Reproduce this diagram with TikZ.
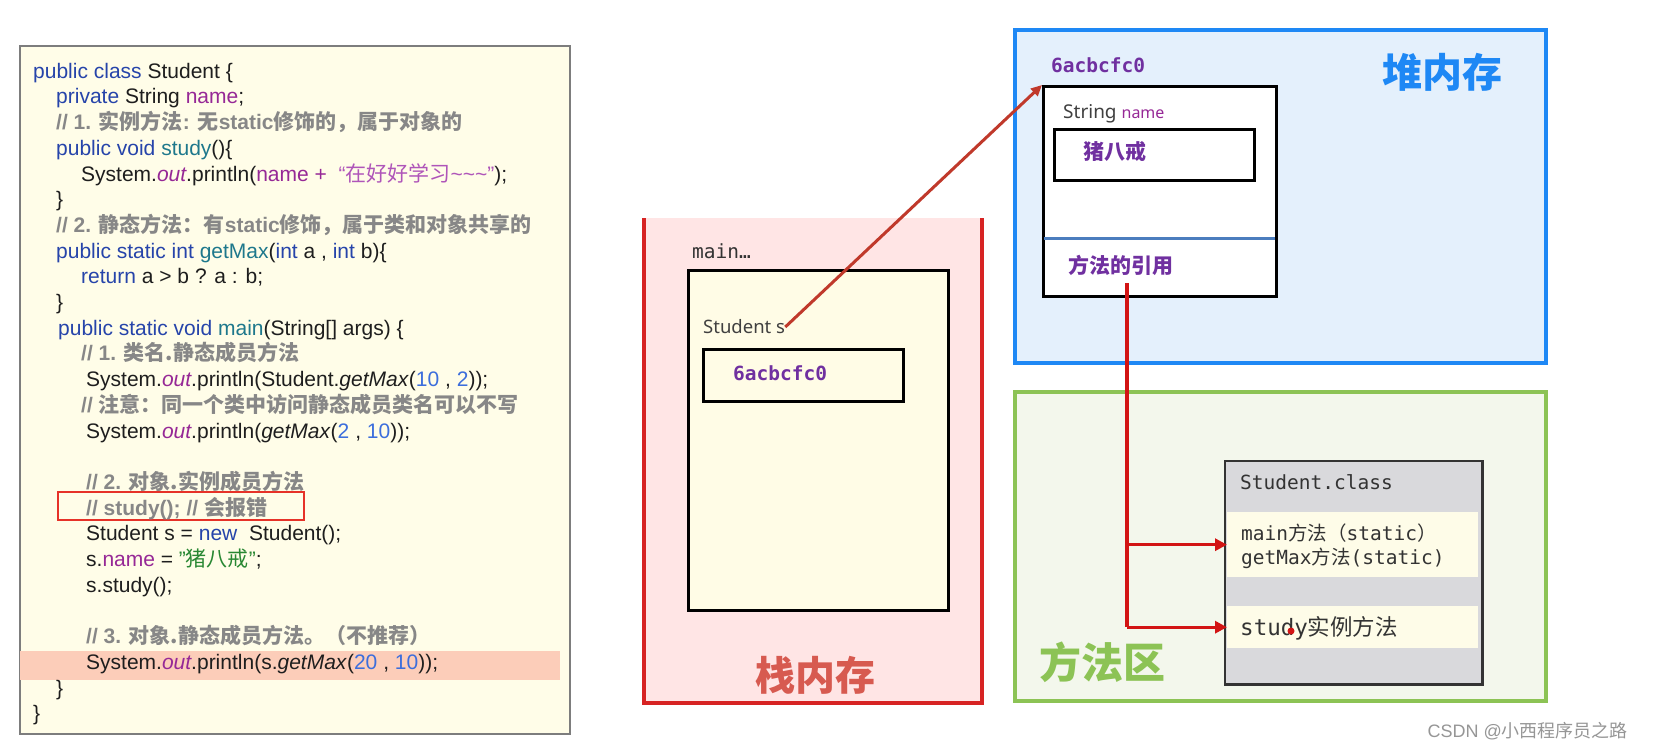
\documentclass[tikz,border=0pt]{standalone}
\usepackage{fontspec}
\usetikzlibrary{arrows.meta}
\setmainfont{Liberation Sans}
\newfontfamily\cjk{Noto Sans CJK SC}
\newfontfamily\mono{DejaVu Sans Mono}
\newfontfamily\uisans{Noto Sans}

\definecolor{codebg}{RGB}{255,253,232}
\definecolor{codeframe}{RGB}{125,125,125}
\definecolor{codeblack}{RGB}{30,30,30}
\definecolor{kwblue}{RGB}{38,68,170}
\definecolor{mthteal}{RGB}{30,120,140}
\definecolor{fldpurple}{RGB}{150,40,150}
\definecolor{strpurple}{RGB}{175,85,185}
\definecolor{strgreen}{RGB}{40,135,50}
\definecolor{numblue}{RGB}{60,110,220}
\definecolor{cmtgray}{RGB}{135,135,135}
\definecolor{errred}{RGB}{230,50,40}
\definecolor{hilite}{RGB}{252,205,185}
\definecolor{stackfill}{RGB}{255,229,229}
\definecolor{stackred}{RGB}{215,35,35}
\definecolor{stacktxt}{RGB}{215,90,80}
\definecolor{framefill}{RGB}{255,252,230}
\definecolor{heapfill}{RGB}{228,240,252}
\definecolor{heapblue}{RGB}{30,136,245}
\definecolor{divblue}{RGB}{75,125,190}
\definecolor{addrpurple}{RGB}{112,48,160}
\definecolor{areafill}{RGB}{243,247,236}
\definecolor{areagreen}{RGB}{140,195,85}
\definecolor{clsgray}{RGB}{217,217,220}
\definecolor{bandyellow}{RGB}{254,252,232}
\definecolor{refred}{RGB}{192,57,43}
\definecolor{linkred}{RGB}{210,20,20}
\definecolor{markgray}{RGB}{150,150,150}

\newcommand{\zh}[1]{{\cjk #1}}
\newcommand{\kwd}[1]{\textcolor{kwblue}{#1}}
\newcommand{\mth}[1]{\textcolor{mthteal}{#1}}
\newcommand{\fld}[1]{\textcolor{fldpurple}{#1}}
\newcommand{\outf}[1]{\textcolor{fldpurple}{\itshape #1}}
\newcommand{\nmb}[1]{\textcolor{numblue}{#1}}
\newcommand{\cmt}[1]{\textcolor{cmtgray}{\bfseries #1}}

\begin{document}
\begin{tikzpicture}[x=1pt, y=-1pt,
	code/.style={anchor=base west, inner sep=0pt, text=codeblack, font=\fontsize{21}{25}\selectfont},
	lbl/.style={anchor=west, inner sep=0pt},
	monotxt/.style={lbl, text=black!80, font=\mono\fontsize{19.5}{22}\selectfont},
	addr/.style={lbl, text=addrpurple, font=\mono\bfseries\fontsize{19.5}{22}\selectfont},
	zone/.style={inner sep=0pt, font=\cjk\bfseries\fontsize{40}{44}\selectfont},
	cell/.style={draw=black, line width=2.5pt, anchor=north west, inner sep=0pt},
	band/.style={fill=bandyellow, anchor=north west, inner sep=0pt, minimum width=251pt},
	refarrow/.style={draw=refred, line width=3pt, -{Triangle[length=11pt,width=10pt]}},
	methline/.style={draw=linkred, line width=3.2pt},
	metharrow/.style={methline, -{Triangle[length=12pt,width=12pt]}}]
	
	\useasboundingbox[fill=white] (0,0) rectangle (1654,752);
	
	% Code panel
	\draw[codeframe, fill=codebg, line width=1.5pt] (20,46) rectangle (570,734);
	\fill[hilite] (20,651) rectangle (560,680);
	\draw[errred, line width=2.5pt] (58,492) rectangle (304,520);
	
	\node[code] (l0)  at (33,78.2)  {\kwd{public class} Student \{};
	\node[code] (l1)  at (56,103.9) {\kwd{private} String \fld{name};};
	\node[code] (l2)  at (56,129.6) {\cmt{// 1. \zh{实例方法}: \zh{无}static\zh{修饰的，属于对象的}}};
	\node[code] (l3)  at (56,155.3) {\kwd{public void} \mth{study}()\{};
	\node[code] (l4)  at (81,181.0) {System.\outf{out}.println(\fld{name +}\ \ \textcolor{strpurple}{“\zh{在好好学习}\textasciitilde\textasciitilde\textasciitilde”});};
	\node[code] (l5)  at (56,206.7) {\}};
	\node[code] (l6)  at (56,232.4) {\cmt{// 2. \zh{静态方法：有}static\zh{修饰，属于类和对象共享的}}};
	\node[code] (l7)  at (56,258.1) {\kwd{public static int} \mth{getMax}(\kwd{int} a , \kwd{int} b)\{};
	\node[code] (l8)  at (81,283.8) {\kwd{return} a > b ? a : b;};
	\node[code] (l9)  at (56,309.5) {\}};
	\node[code] (l10) at (58,335.2) {\kwd{public static void} \mth{main}(String[] args) \{};
	\node[code] (l11) at (81,360.9) {\cmt{// 1. \zh{类名.静态成员方法}}};
	\node[code] (l12) at (86,386.6) {System.\outf{out}.println(Student.\textit{getMax}(\nmb{10} , \nmb{2}));};
	\node[code] (l13) at (81,412.3) {\cmt{// \zh{注意：同一个类中访问静态成员类名可以不写}}};
	\node[code] (l14) at (86,438.0) {System.\outf{out}.println(\textit{getMax}(\nmb{2} , \nmb{10}));};
	\node[code] (l16) at (86,489.4) {\cmt{// 2. \zh{对象.实例成员方法}}};
	\node[code] (l17) at (86,515.1) {\cmt{// study(); // \zh{会报错}}};
	\node[code] (l18) at (86,540.8) {Student s = \kwd{new}\ \ Student();};
	\node[code] (l19) at (86,566.5) {s.\fld{name} = \textcolor{strgreen}{"\zh{猪八戒}"};};
	\node[code] (l20) at (86,592.2) {s.study();};
	\node[code] (l22) at (86,643.6) {\cmt{// 3. \zh{对象.静态成员方法。（不推荐）}}};
	\node[code] (l23) at (86,669.3) {System.\outf{out}.println(s.\textit{getMax}(\nmb{20} , \nmb{10}));};
	\node[code] (l24) at (56,695.0) {\}};
	\node[code] (l25) at (33,720.7) {\}};
	
	% Stack
	\fill[stackfill] (644,218) rectangle (982,703);
	\draw[stackred, line width=4pt] (644,218) -- (644,703) -- (982,703) -- (982,218);
	\node[monotxt] (mainlbl) at (692,251) {main…};
	\node[cell, fill=framefill, minimum width=260pt, minimum height=340pt] (frame) at (687,269) {};
	\node[lbl, text=black!75, font=\uisans\fontsize{18.5}{22}\selectfont] (var) at (703,327) {Student s};
	\node[cell, minimum width=200pt, minimum height=52pt] (ptr) at (702,348) {};
	\node[addr] (ptrval) at (733,373) {6acbcfc0};
	\node[zone, text=stacktxt] (stacklbl) at (815,675) {栈内存};
	
	% Heap
	\draw[heapblue, fill=heapfill, line width=4pt] (1015,30) rectangle (1546,363);
	\node[addr] (objaddr) at (1051,65) {6acbcfc0};
	\node[zone, text=heapblue] (heaplbl) at (1442,72) {堆内存};
	\node[cell, fill=white, minimum width=233pt, minimum height=210pt] (obj) at (1042,85) {};
	\node[lbl, text=black!75, font=\uisans\fontsize{19}{22}\selectfont] (fldlbl) at (1063,114) {String \textcolor{fldpurple}{\fontsize{16}{18}\selectfont name}};
	\node[cell, minimum width=200pt, minimum height=51pt] (namebox) at (1053,128) {};
	\node[lbl, text=addrpurple, font=\cjk\bfseries\fontsize{21}{24}\selectfont] (nameval) at (1083,151) {猪八戒};
	\draw[divblue, line width=3pt] (1044,238) -- (1275,238);
	\node[lbl, text=addrpurple, font=\cjk\bfseries\fontsize{21}{24}\selectfont] (mref) at (1068,265) {方法的引用};
	\coordinate (ref) at (1127,283);
	
	% Method area
	\draw[areagreen, fill=areafill, line width=4pt] (1015,392) rectangle (1546,701);
	\node[zone, text=areagreen, font=\cjk\bfseries\fontsize{42}{46}\selectfont] (arealbl) at (1102,662) {方法区};
	\node[cell, draw=none, fill=clsgray, minimum width=255pt, minimum height=221pt] (cls) at (1225,461) {};
	\node[band, minimum height=65pt] (statm) at (1227,512) {};
	\node[band, minimum height=42pt] (instm) at (1227,606) {};
	\draw[black!80, line width=2.5pt] (cls.north west) rectangle (cls.south east);
	\node[monotxt] (clsname) at (1240,482) {Student.class};
	\node[monotxt] (m1) at (1241,533) {main\zh{方法（}static\zh{）}};
	\node[monotxt] (m2) at (1241,558) {getMax\zh{方法}(static)};
	\node[monotxt, font=\mono\fontsize{22.5}{26}\selectfont] (m3) at (1240,628) {study\zh{实例方法}};
	\fill[linkred] (1291,631) circle (3.5pt);
	
	% References
	\draw[refarrow] (var.east) -- (obj.north west);
	\draw[methline] (ref) -- (ref |- instm.west);
	\draw[metharrow] (ref |- statm.west) -- (statm.west);
	\draw[metharrow] (ref |- instm.west) -- (instm.west);
	
	\node[lbl, anchor=east, text=markgray, font=\fontsize{18}{20}\selectfont] (mark) at (1628,731) {CSDN @\zh{小西程序员之路}};
\end{tikzpicture}
\end{document}
